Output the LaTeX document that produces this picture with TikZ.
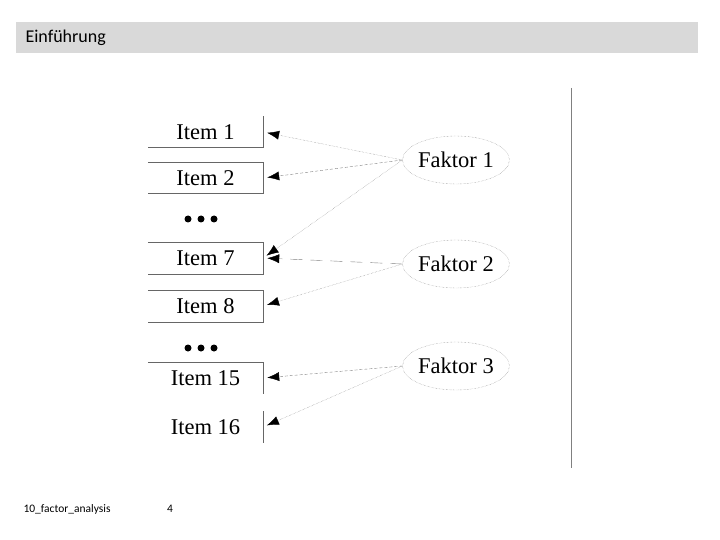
\documentclass[tikz,border=0pt]{standalone}
\usepackage{fontspec}
\setmainfont{Liberation Serif}
\newfontfamily\slidefont{Carlito}
\usetikzlibrary{arrows,arrows.meta,shapes}
\begin{document}
\begin{tikzpicture}[x=1pt,y=-1pt]
        \tikzstyle{item}=[rectangle, inner sep=0pt, minimum width=115pt, minimum height=31pt, font=\fontsize{22.5}{24}\selectfont]
        \tikzstyle{factor}=[ellipse, draw=gray, densely dotted, inner sep=0pt, minimum width=104pt, minimum height=48pt, font=\fontsize{22.5}{24}\selectfont]
        \tikzstyle{edge}=[draw=gray, -{Latex[black,length=12pt,width=9pt]}, shorten >=4pt]
        \tikzstyle{frame}=[draw=gray!80!black, thin]
        \tikzstyle{dots}=[circle, fill=black, inner sep=0pt, minimum size=7pt]
        \useasboundingbox (0,0) rectangle (720,540);
        \fill [black!15] (16,22) rectangle (698,53);
        \node [anchor=west, font=\slidefont\fontsize{18}{20}\selectfont] (title) at (22,38) {Einführung};
        \node [anchor=west, font=\slidefont\fontsize{11.5}{13}\selectfont] (foot) at (20,509) {10\_factor\_analysis};
        \node [font=\slidefont\fontsize{11.5}{13}\selectfont] (page) at (170,509) {4};
        \draw [gray] (571,88) -- (571,468);
        % items
        \node [item] (i1) at (205.5,132) {Item 1};
        \node [item] (i2) at (205.5,178) {Item 2};
        \node [item] (i7) at (205.5,258) {Item 7};
        \node [item] (i8) at (205.5,306) {Item 8};
        \node [item] (i15) at (205.5,378) {Item 15};
        \node [item] (i16) at (205.5,427) {Item 16};
        \foreach \x in {188,201,214} {
          \node [dots] at (\x,219) {};
          \node [dots] at (\x,348) {};
        }
        \draw [frame] (i1.north east) -- (i1.south east) -- (i1.south west);
        \foreach \n in {i2,i7,i8}
          \draw [frame] (\n.north west) -- (\n.north east) -- (\n.south east) -- (\n.south west);
        \draw [frame] (i15.north west) -- (i15.north east) -- (i15.south east);
        \draw [frame] (i16.north east) -- (i16.south east);
        % factors
        \node [factor] (f1) at (456,160) {Faktor 1};
        \node [factor] (f2) at (456,264) {Faktor 2};
        \node [factor] (f3) at (456,366) {Faktor 3};
        \draw [edge, densely dotted] (f1.west) -- (i1.east);
        \draw [edge, densely dashed] (f1.west) -- (i2.east);
        \draw [edge, densely dotted] (f1.west) -- (i7.east);
        \draw [edge, dash pattern=on 12pt off 8pt] (f2.west) -- (i7.east);
        \draw [edge, densely dotted] (f2.west) -- (i8.east);
        \draw [edge, densely dashed] (f3.west) -- (i15.east);
        \draw [edge, densely dotted] (f3.west) -- (i16.east);
      \end{tikzpicture}
\end{document}
